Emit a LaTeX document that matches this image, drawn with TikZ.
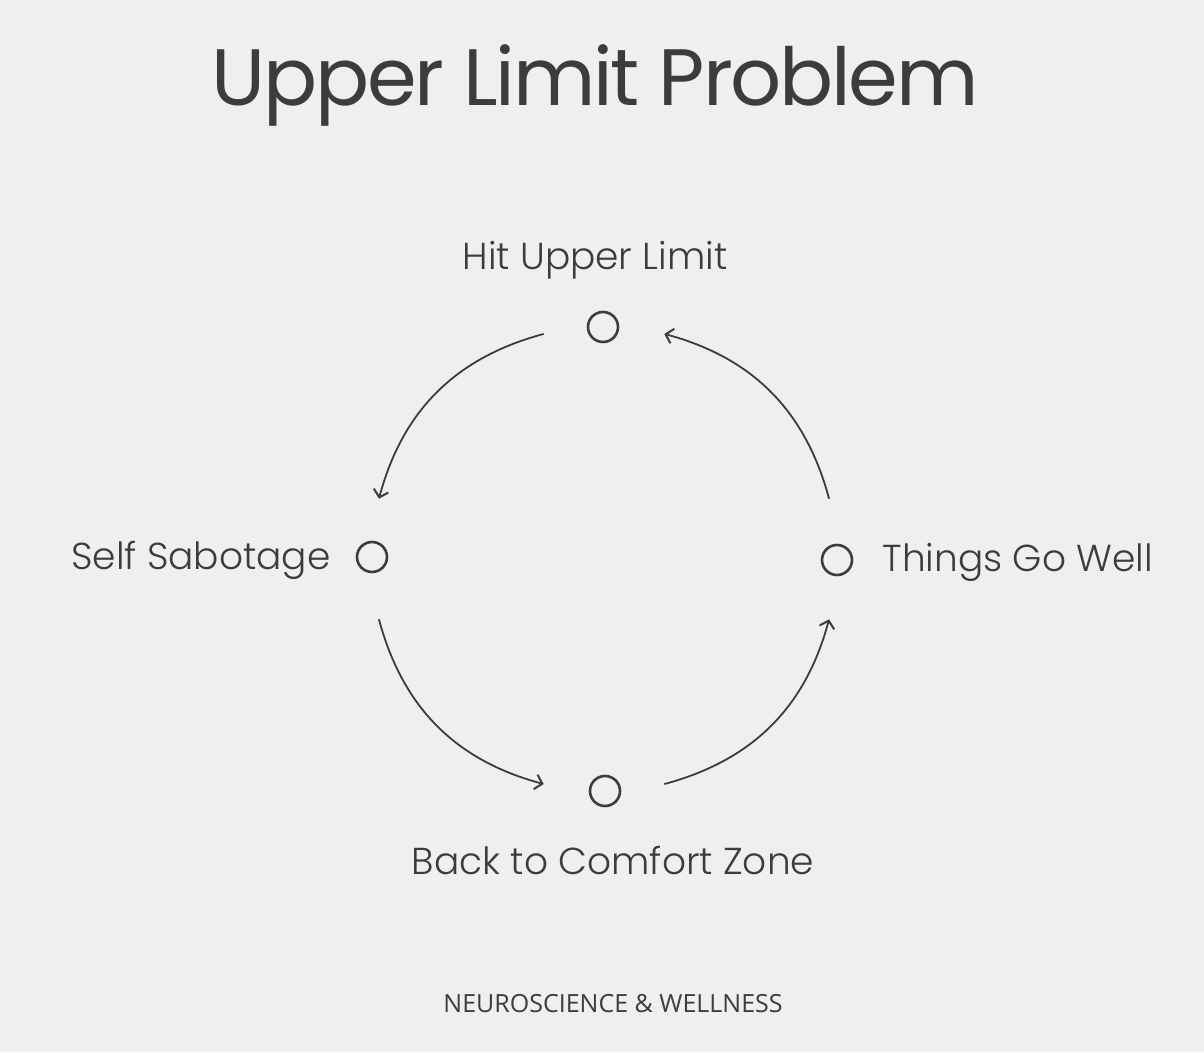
\documentclass[tikz,border=0pt]{standalone}
\usepackage{fontspec}
\setmainfont{Poppins}
\newfontfamily\lightfont{Poppins Light}
\newfontfamily\footfont{Open Sans}
\usetikzlibrary{arrows.meta,positioning}

\definecolor{paper}{RGB}{239,239,237}
\definecolor{ink}{RGB}{60,60,60}

\begin{document}
\begin{tikzpicture}[x=1pt,y=1pt,>={Straight Barb[length=7pt,width=15pt,line width=2pt]},
	stage/.style={circle,draw=ink,line width=2.6pt,minimum size=30pt,inner sep=0pt},
	caption/.style={font=\lightfont\fontsize{37.5}{42}\selectfont,text=ink,inner sep=0pt},
	loopline/.style={->,color=ink,line width=1.8pt}]
	\fill[paper] (0,0) rectangle (1204,1052);
	\useasboundingbox (0,0) rectangle (1204,1052);

	\node[font=\addfontfeature{LetterSpace=-2.8}\fontsize{80}{90}\selectfont,text=ink,anchor=base] (title) at (595,946) {Upper Limit Problem};

	\coordinate (ring) at (604,493);
	\node[stage] (hit) at (603,725) {};
	\node[stage] (sab) at (372,495) {};
	\node[stage] (well) at (837,492) {};
	\node[stage] (back) at (605,261) {};

	\node[caption,anchor=base] (hitlbl) at (595,782) {Hit Upper Limit};
	\node[caption,left=25pt of sab,yshift=-3pt] (sablbl) {Self Sabotage};
	\node[caption,right=29pt of well,yshift=-2pt] (welllbl) {Things Go Well};
	\node[caption,anchor=base] (backlbl) at (613,177) {Back to Comfort Zone};

	% ends of the arcs on the ring
	\coordinate (hit-out) at ([shift={(105:233)}]ring);
	\coordinate (sab-in) at ([shift={(165:233)}]ring);
	\coordinate (sab-out) at ([shift={(195:233)}]ring);
	\coordinate (back-in) at ([shift={(255:233)}]ring);
	\coordinate (back-out) at ([shift={(285:233)}]ring);
	\coordinate (well-in) at ([shift={(345:233)}]ring);
	\coordinate (well-out) at ([shift={(15:233)}]ring);
	\coordinate (hit-in) at ([shift={(75:233)}]ring);

	\path[loopline] (hit-out) edge [bend right=30] (sab-in)
	(sab-out) edge [bend right=30] (back-in)
	(back-out) edge [bend right=30] (well-in)
	(well-out) edge [bend right=30] (hit-in);

	\node[font=\footfont\fontsize{25}{30}\selectfont,text=ink,anchor=base] (foot) at (613,40) {NEUROSCIENCE \& WELLNESS};
\end{tikzpicture}
\end{document}
